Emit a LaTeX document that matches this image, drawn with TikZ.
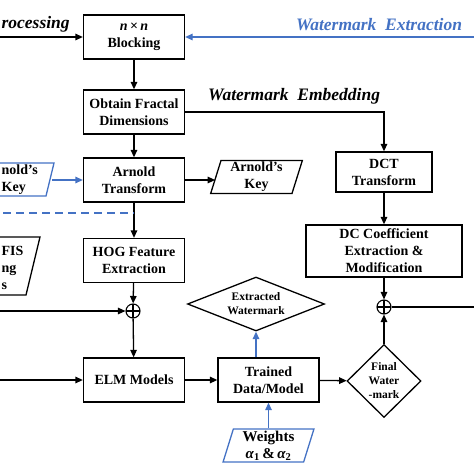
\documentclass[tikz,border=0pt]{standalone}
\usepackage{fontspec}
\setmainfont{Liberation Serif}
\usetikzlibrary{arrows.meta,shapes.geometric}
\definecolor{wmblue}{RGB}{68,114,196}
\begin{document}
\begin{tikzpicture}[x=1pt,y=-1pt,line width=1.3pt,>={Triangle[length=7.5pt,width=6.5pt]},
  blk/.style={draw,align=center,inner sep=1pt,minimum width=101pt,minimum height=44pt,
    font=\fontsize{14}{17}\selectfont\bfseries},
  keybox/.style={draw,trapezium,trapezium left angle=76,trapezium right angle=104,
    trapezium stretches=true,align=center,inner sep=1pt,minimum width=92pt,minimum height=33pt,
    font=\fontsize{14}{17}\selectfont\bfseries},
  sumnode/.style={draw,circle,minimum size=14pt,inner sep=0pt,line width=1.1pt,
    path picture={\draw[line width=1.1pt] (path picture bounding box.north)--(path picture bounding box.south)
      (path picture bounding box.west)--(path picture bounding box.east);}},
  stage/.style={font=\fontsize{17.5}{20}\selectfont\bfseries\itshape}]
\useasboundingbox (0,0) rectangle (474,474);
\clip (0,0) rectangle (474,474);

% left column
\node[blk] (blocking) at (134,37) {\textit{n}\,×\,\textit{n}\\Blocking};
\node[blk] (fractal) at (134,112) {Obtain Fractal\\Dimensions};
\node[blk] (arnold) at (134,180) {Arnold\\Transform};
\node[blk] (hog) at (134,260.5) {HOG Feature\\Extraction};
\node[sumnode] (sumL) at (133,311) {};
\node[blk] (elm) at (134,380) {ELM Models};

% middle
\node[keybox] (keyR) at (256.5,177) {Arnold’s\\Key};
\node[blk] (trained) at (268.5,380) {Trained\\Data/Model};
\node[draw,diamond,aspect=2.5,inner sep=0pt,minimum width=137pt,minimum height=54pt,align=center,
  font=\fontsize{11.5}{14}\selectfont\bfseries] (extracted) at (256,304) {Extracted\\Watermark};
\node[keybox,draw=wmblue,minimum width=91pt,font=\fontsize{15}{17}\selectfont\bfseries] (weights) at (268.5,445.5)
  {Weights\\\textit{α}\textsubscript{1}\,\&\,\textit{α}\textsubscript{2}};

% right column
\node[blk,minimum width=96pt,minimum height=40pt] (dct) at (384,172) {DCT\\Transform};
\node[blk,minimum width=156pt,minimum height=52pt] (dc) at (384,251) {DC Coefficient\\Extraction \&\\Modification};
\node[sumnode] (sumR) at (384,307) {};
\node[draw,diamond,aspect=1,inner sep=0pt,minimum width=74pt,minimum height=73pt,align=center,
  font=\fontsize{11.5}{14}\selectfont\bfseries] (final) at (384,381) {Final\\Water\\-mark};

% cut off at the left edge
\draw[wmblue] (-10,163)--(54,163)--(46,196)--(-10,196);
\node[anchor=west,align=left,inner sep=0pt,font=\fontsize{14}{17}\selectfont\bfseries] (keyLtext) at (1,180) {nold’s\\Key};
\draw (-10,237)--(40,237)--(26,295)--(-10,295);
\node[anchor=west,align=left,inner sep=0pt,font=\fontsize{14}{17}\selectfont\bfseries] (fistext) at (1,268) {FIS\\ng\\s};
\coordinate (keyL) at (52,180);
\coordinate (inP) at (-10,37);
\coordinate (inX) at (490,37);
\coordinate (dashL) at (-10,213);
\coordinate (inS) at (-10,311);
\coordinate (inE) at (-10,380);
\coordinate (outR) at (490,307);

% labels
\node[stage,anchor=base west,inner sep=0pt] (preproc) at (1,28) {rocessing};
\node[stage,anchor=base east,text=wmblue] (extract) at (466,30) {Watermark\enspace Extraction};
\node[stage,anchor=base east] (embed) at (384,100) {Watermark\enspace Embedding};

% connectors
\draw[->] (inP) -- (blocking.west);
\draw[->,wmblue] (inX) -- (blocking.east);
\draw[->] (blocking) -- (fractal);
\draw[->] (fractal) -- (arnold);
\draw[->] (fractal.east) -| (dct.north);
\draw[->,wmblue] (keyL) -- (arnold.west);
\draw[->] (arnold.east) -- (arnold.east -| keyR.west);
\draw[->] (arnold) -- (hog);
\draw[wmblue,dashed,dash pattern=on 8pt off 5pt] (dashL) -- (arnold.south |- dashL);
\draw[->] (hog) -- (sumL);
\draw[->] (inS) -- (sumL.west);
\draw[->] (sumL) -- (elm);
\draw[->] (inE) -- (elm.west);
\draw[->] (elm) -- (trained);
\draw[->,wmblue] (extracted.south |- trained.north) -- (extracted.south);
\draw[->,wmblue] (weights.north) -- (weights.north |- trained.south);
\draw[->] (trained) -- (final);
\draw[->] (dct) -- (dc);
\draw[->] (dc) -- (sumR);
\draw[->] (final) -- (sumR);
\draw (sumR) -- (outR);

\end{tikzpicture}
\end{document}
